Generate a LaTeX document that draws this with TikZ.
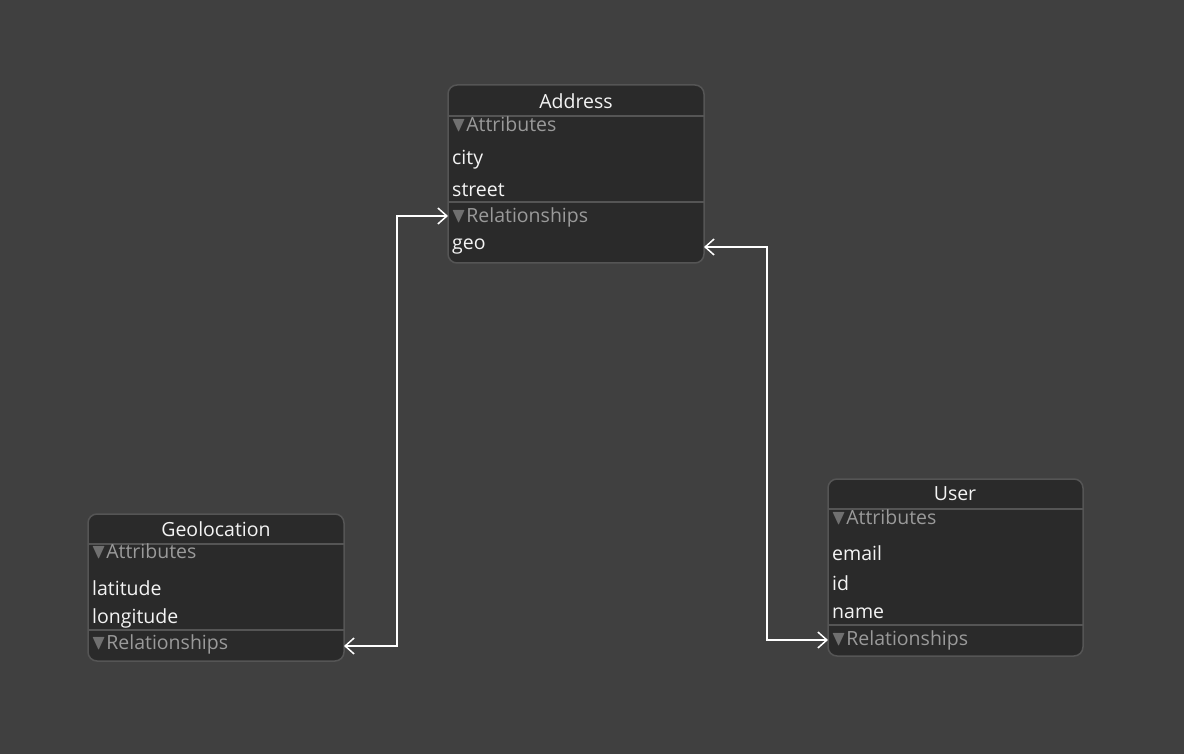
\documentclass[tikz,border=0pt]{standalone}
\usepackage{fontspec}
\setmainfont{Open Sans}
\usepackage{amssymb}
\usetikzlibrary{arrows.meta}
\definecolor{bg}{HTML}{404040}
\definecolor{boxfill}{HTML}{2A2A2A}
\definecolor{boxline}{HTML}{555555}
\definecolor{sect}{HTML}{9A9A9A}
\definecolor{tri}{HTML}{707070}
\definecolor{txt}{HTML}{F4F4F4}
\tikzset{
  x=1pt,y=-1pt,
  entity/.style={draw=boxline,fill=boxfill,line width=1.5pt,rounded corners=9pt},
  sep/.style={draw=boxline,line width=1.5pt},
  ttl/.style={text=txt,font=\fontsize{19.5}{19.5}\selectfont,anchor=center},
  attr/.style={text=txt,font=\fontsize{19.5}{19.5}\selectfont,anchor=west,inner sep=0pt},
  sec/.style={text=sect,font=\fontsize{19.5}{19.5}\selectfont,anchor=west,inner sep=0pt},
  conn/.style={draw=white,line width=1.5pt,{Straight Barb[length=9pt,width=16pt]}-{Straight Barb[length=9pt,width=16pt]}}
}
\newcommand{\secl}[3]{\node[sec] (#1) at (#2) {{\color{tri}\fontsize{21}{21}\selectfont$\blacktriangledown$}#3};}
\begin{document}
\begin{tikzpicture}
\fill[bg] (0,0) rectangle (1184,754);
% Address
\path[entity] (448,85) rectangle (704,263);
\draw[sep] (448,116) -- (704,116);
\draw[sep] (448,202) -- (704,202);
\node[ttl] (at) at (576,101) {Address};
\secl{aa}{451,124}{Attributes}
\node[attr] (a1) at (452,160) {city};
\node[attr] (a2) at (452,190) {street};
\secl{ar}{451,217}{Relationships}
\node[attr] (a3) at (452,247) {geo};
% Geolocation
\path[entity] (88,514) rectangle (344,661);
\draw[sep] (88,544) -- (344,544);
\draw[sep] (88,630) -- (344,630);
\node[ttl] (gt) at (216,529) {Geolocation};
\secl{ga}{91,551}{Attributes}
\node[attr] (g1) at (92,588) {latitude};
\node[attr] (g2) at (92,618) {longitude};
\secl{gr}{91,644}{Relationships}
% User
\path[entity] (828,479) rectangle (1083,656);
\draw[sep] (828,509) -- (1083,509);
\draw[sep] (828,625) -- (1083,625);
\node[ttl] (ut) at (955,494) {User};
\secl{ua}{831,517}{Attributes}
\node[attr] (u1) at (832,553) {email};
\node[attr] (u2) at (832,583) {id};
\node[attr] (u3) at (832,613) {name};
\secl{ur}{831,640}{Relationships}
% connectors
\coordinate (gE) at (344,646);
\coordinate (aW) at (448,216);
\coordinate (aE) at (704,247);
\coordinate (uW) at (828,640);
\draw[conn] (gE) -- (397,646) -- (397,216) -- (aW);
\draw[conn] (aE) -- (767,247) -- (767,640) -- (uW);
\end{tikzpicture}
\end{document}
